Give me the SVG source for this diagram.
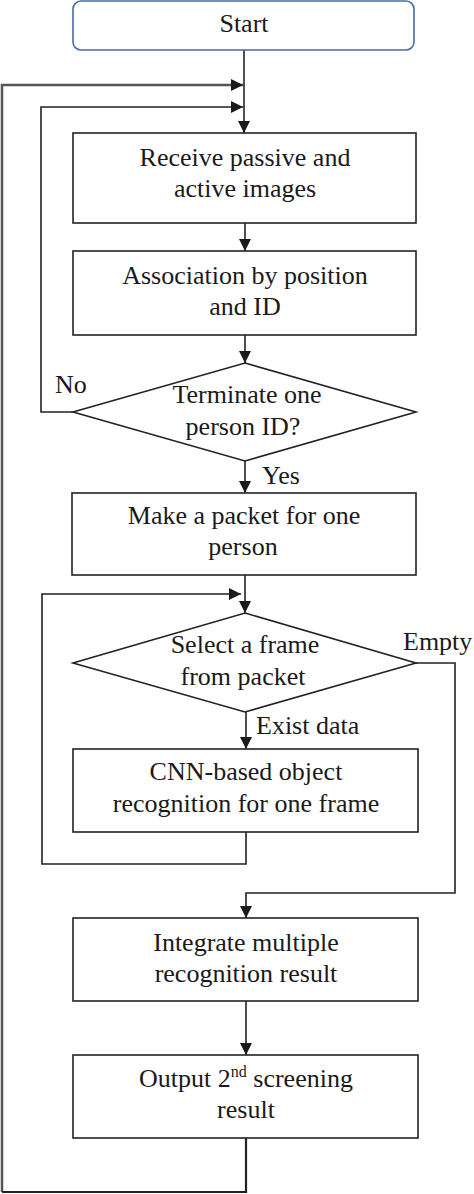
<svg xmlns="http://www.w3.org/2000/svg" width="474" height="1194" viewBox="0 0 474 1194">
<defs>
<marker id="ah" viewBox="0 0 10 10" refX="10" refY="5" markerWidth="12" markerHeight="12" markerUnits="userSpaceOnUse" orient="auto">
<path d="M0,0 L10,5 L0,10 z" fill="#1a1a1a"/>
</marker>
<style>
.n{fill:#fff;stroke:#222;stroke-width:1.6}
.t{font-family:"Liberation Serif",serif;font-size:26px;fill:#1a1a1a;text-anchor:middle}
.l{font-family:"Liberation Serif",serif;font-size:26px;fill:#1a1a1a}
.c{fill:none;stroke:#222;stroke-width:1.6}
</style>
</defs>
<rect width="474" height="1194" fill="#fff"/>
<g id="connectors">
<path class="c" d="M244,50 V133" marker-end="url(#ah)"/>
<path class="c" d="M2,1192 V85 H243" marker-end="url(#ah)" style="stroke:#555;stroke-width:2.5"/>
<path class="c" d="M246,1138 V1192 H2" style="stroke-width:2.2"/>
<path class="c" d="M73,412 H41 V107 H243" marker-end="url(#ah)"/>
<path class="c" d="M245,223 V251" marker-end="url(#ah)"/>
<path class="c" d="M245,335 V363" marker-end="url(#ah)"/>
<path class="c" d="M245,461 V493" marker-end="url(#ah)"/>
<path class="c" d="M245,575 V613" marker-end="url(#ah)"/>
<path class="c" d="M246,832 V864 H42 V594 H241" marker-end="url(#ah)"/>
<path class="c" d="M246,712 V749" marker-end="url(#ah)"/>
<path class="c" d="M416,663 H455 V893 H246 V918" marker-end="url(#ah)"/>
<path class="c" d="M246,1001 V1055" marker-end="url(#ah)"/>
<text class="l" x="55" y="393">No</text>
<text class="l" x="262" y="484">Yes</text>
<text class="l" x="403" y="650">Empty</text>
<text class="l" x="256" y="734">Exist data</text>
</g>
<g id="start">
<rect x="73" y="1" width="341" height="49" rx="8" fill="#fff" stroke="#4a6aa5" stroke-width="1.6"/>
<text class="t" x="244" y="32">Start</text>
</g>
<g id="receive">
<rect class="n" x="73" y="133" width="343" height="90"/>
<text class="t" x="245" y="166">Receive passive and</text>
<text class="t" x="245" y="197">active images</text>
</g>
<g id="association">
<rect class="n" x="73" y="251" width="343" height="84"/>
<text class="t" x="245" y="284">Association by position</text>
<text class="t" x="245" y="315">and ID</text>
</g>
<g id="terminate">
<polygon class="n" points="245,363 416,412 245,461 73,412"/>
<text class="t" x="247" y="403">Terminate one</text>
<text class="t" x="243" y="435">person ID?</text>
</g>
<g id="packet">
<rect class="n" x="72" y="493" width="344" height="82"/>
<text class="t" x="244" y="524">Make a packet for one</text>
<text class="t" x="243" y="555">person</text>
</g>
<g id="select">
<polygon class="n" points="245,613 416,663 245,712 73,663"/>
<text class="t" x="245" y="653">Select a frame</text>
<text class="t" x="243" y="685">from packet</text>
</g>
<g id="cnn">
<rect class="n" x="73" y="749" width="345" height="83"/>
<text class="t" x="246" y="780">CNN-based object</text>
<text class="t" x="246" y="812">recognition for one frame</text>
</g>
<g id="integrate">
<rect class="n" x="73" y="918" width="345" height="83"/>
<text class="t" x="246" y="951">Integrate multiple</text>
<text class="t" x="246" y="982">recognition result</text>
</g>
<g id="output">
<rect class="n" x="73" y="1055" width="345" height="83"/>
<text class="t" x="246" y="1087">Output 2<tspan font-size="16" dy="-10">nd</tspan><tspan dy="10"> screening</tspan></text>
<text class="t" x="246" y="1118">result</text>
</g>
</svg>
